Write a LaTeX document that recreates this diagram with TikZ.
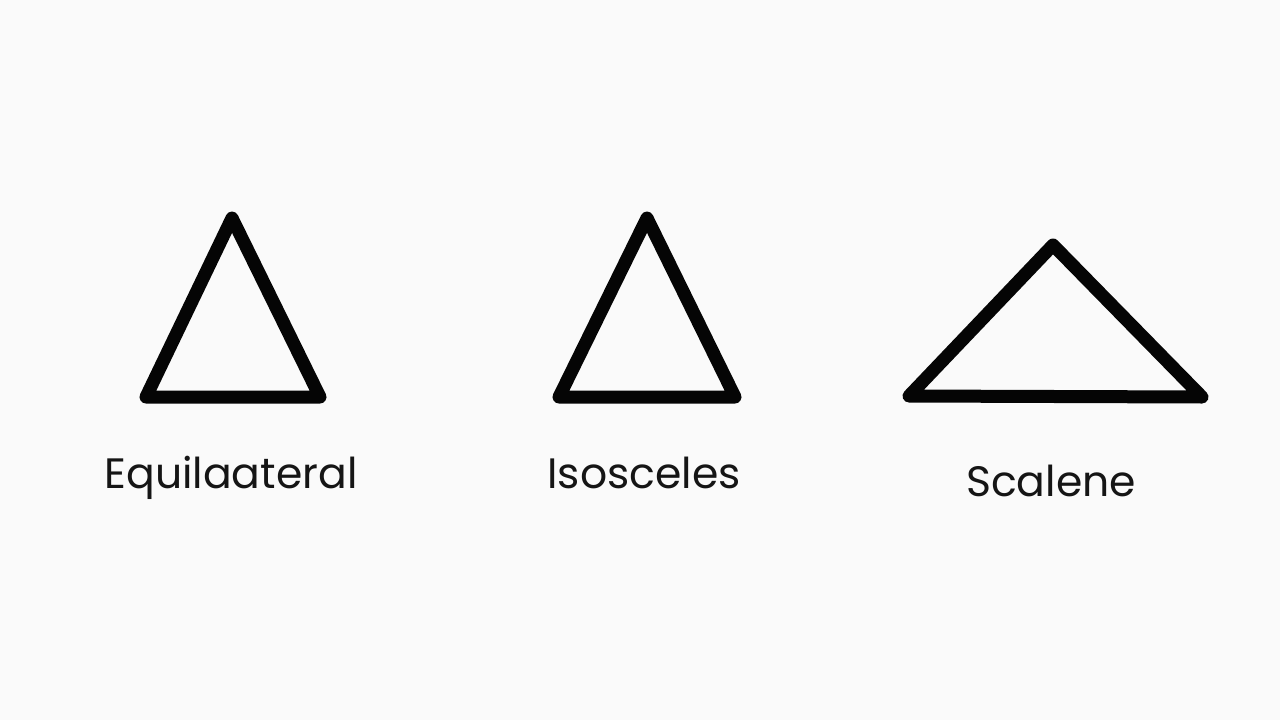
\documentclass[tikz,border=0pt]{standalone}
\usepackage{fontspec}
\setmainfont{Poppins}
\definecolor{bg}{HTML}{FAFAFA}
\definecolor{ink}{HTML}{050505}
\definecolor{txt}{HTML}{151515}
\tikzset{
  tri/.style={draw=ink, line width=13pt, line join=round, line cap=round},
  lbl/.style={text=txt, anchor=base, inner sep=0pt, font=\fontsize{42.5}{50}\selectfont}
}
\begin{document}
\begin{tikzpicture}[x=1pt,y=-1pt]
\fill[bg] (0,0) rectangle (1280,720);
\useasboundingbox (0,0) rectangle (1280,720);
% triangles
\coordinate (a1) at (232,218); \coordinate (b1) at (146,397); \coordinate (c1) at (320,397);
\coordinate (a2) at (647,218); \coordinate (b2) at (559,397); \coordinate (c2) at (735,397);
\coordinate (a3) at (1053,245); \coordinate (b3) at (909,396); \coordinate (c3) at (1202,397);
\draw[tri] (a1) -- (b1) -- (c1) -- cycle;
\draw[tri] (a2) -- (b2) -- (c2) -- cycle;
\draw[tri] (a3) -- (b3) -- (c3) -- cycle;
% labels
\node[lbl] (l1) at (231,488) {Equilaateral};
\node[lbl] (l2) at (644,488) {Isosceles};
\node[lbl] (l3) at (1051,496) {Scalene};
\end{tikzpicture}
\end{document}
